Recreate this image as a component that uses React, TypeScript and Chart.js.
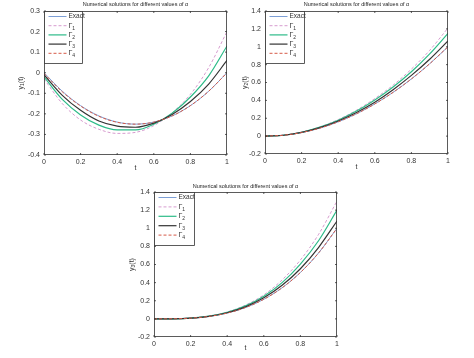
import React, { useEffect, useRef } from "react";
import { Chart, registerables } from "chart.js";

Chart.register(...registerables);

const T = [0, 0.1, 0.2, 0.3, 0.4, 0.5, 0.6, 0.7, 0.8, 0.9, 1.0];
const SERIES_NAMES = ["Exact", "Γ1", "Γ2", "Γ3", "Γ4"];

// y1(t)
const Y1_EXACT = [0, -0.09, -0.16, -0.21, -0.24, -0.25, -0.24, -0.21, -0.16, -0.09, 0];
const Y1_G1 = [-0.03, -0.15, -0.23, -0.275, -0.295, -0.29, -0.257, -0.195, -0.105, 0.025, 0.2];
const Y1_G2 = [-0.02, -0.13, -0.205, -0.255, -0.278, -0.278, -0.25, -0.197, -0.118, -0.015, 0.13];
const Y1_G3 = [-0.01, -0.11, -0.183, -0.235, -0.26, -0.265, -0.245, -0.203, -0.14, -0.055, 0.06];
const Y1_G4 = [-0.003, -0.093, -0.162, -0.212, -0.241, -0.25, -0.24, -0.21, -0.16, -0.09, 0.0];

// y2(t)
const Y2_EXACT = [0, 0.01, 0.04, 0.09, 0.16, 0.25, 0.36, 0.49, 0.64, 0.81, 1.0];
const Y2_G1 = [0, 0.01, 0.045, 0.103, 0.185, 0.29, 0.42, 0.57, 0.75, 0.96, 1.21];
const Y2_G2 = [0, 0.01, 0.043, 0.1, 0.178, 0.28, 0.405, 0.55, 0.72, 0.92, 1.15];
const Y2_G3 = [0, 0.01, 0.042, 0.095, 0.17, 0.265, 0.38, 0.52, 0.68, 0.86, 1.065];
const Y2_G4 = [0, 0.01, 0.04, 0.09, 0.16, 0.25, 0.36, 0.49, 0.64, 0.81, 1.0];

// y3(t)
const Y3_EXACT = [0, 0.001, 0.008, 0.027, 0.064, 0.125, 0.216, 0.343, 0.512, 0.729, 1.0];
const Y3_G1 = [0, 0.001, 0.009, 0.031, 0.076, 0.152, 0.265, 0.43, 0.65, 0.935, 1.3];
const Y3_G2 = [0, 0.001, 0.009, 0.03, 0.072, 0.143, 0.25, 0.4, 0.605, 0.865, 1.2];
const Y3_G3 = [0, 0.001, 0.008, 0.028, 0.068, 0.133, 0.232, 0.37, 0.553, 0.79, 1.08];
const Y3_G4 = [0, 0.001, 0.008, 0.027, 0.064, 0.125, 0.216, 0.343, 0.512, 0.729, 1.0];

const COLORS = ["#7d9fd6", "#d79ccf", "#2dbb88", "#333333", "#d65a48"];
const DASHES = [[], [3, 2], [], [], [3, 2]];
const WIDTHS = [1, 1, 1.2, 1.2, 1];

const FONT = "'Liberation Sans', Arial, sans-serif";
const TITLE = "Numerical solutions for different values of α";

function fmt(v: number) {
  const r = Math.round(v * 10) / 10;
  if (Math.abs(r) < 1e-9) return "0";
  return String(r);
}

type PanelProps = {
  left: number;
  top: number;
  width: number;
  height: number;
  yAxisWidth: number;
  xAxisHeight: number;
  padTop: number;
  padRight: number;
  yMin: number;
  yMax: number;
  yStep: number;
  ySeries: number[][];
  yLabelSub: string;
  yTitleX: number;
  xTitleY: number;
  titleY: number;
  legendW: number;
  legendH: number;
};

function Panel(p: PanelProps) {
  const ref = useRef<HTMLCanvasElement | null>(null);
  useEffect(() => {
    if (!ref.current) return;
    const boxPlugin = {
      id: "matlabBox",
      afterDraw(chart: any) {
        const ctx = chart.ctx as CanvasRenderingContext2D;
        const a = chart.chartArea;
        const xs = chart.scales.x;
        const ys = chart.scales.y;
        ctx.save();
        // title
        ctx.fillStyle = "#222";
        ctx.font = `5.5px ${FONT}`;
        ctx.textAlign = "center";
        ctx.textBaseline = "middle";
        ctx.fillText(TITLE, (a.left + a.right) / 2, p.titleY);
        // x title
        ctx.fillStyle = "#333";
        ctx.font = `7px ${FONT}`;
        ctx.fillText("t", (a.left + a.right) / 2, p.xTitleY);
        // y title with subscript
        ctx.save();
        ctx.translate(p.yTitleX, (a.top + a.bottom) / 2);
        ctx.rotate(-Math.PI / 2);
        ctx.textAlign = "left";
        ctx.font = `7px ${FONT}`;
        const w1 = ctx.measureText("y").width;
        ctx.font = `5px ${FONT}`;
        const w2 = ctx.measureText(p.yLabelSub).width;
        ctx.font = `7px ${FONT}`;
        const w3 = ctx.measureText("(t)").width;
        let x0 = -(w1 + w2 + w3) / 2;
        ctx.fillText("y", x0, 0);
        ctx.font = `5px ${FONT}`;
        ctx.fillText(p.yLabelSub, x0 + w1, 2);
        ctx.font = `7px ${FONT}`;
        ctx.fillText("(t)", x0 + w1 + w2, 0);
        ctx.restore();
        // box
        ctx.strokeStyle = "#333";
        ctx.lineWidth = 0.8;
        ctx.setLineDash([]);
        ctx.strokeRect(a.left + 0.5, a.top + 0.5, a.right - a.left - 1, a.bottom - a.top - 1);
        // inward ticks
        ctx.beginPath();
        xs.ticks.forEach((t: any) => {
          const px = xs.getPixelForValue(t.value);
          ctx.moveTo(px, a.bottom);
          ctx.lineTo(px, a.bottom - 2);
          ctx.moveTo(px, a.top);
          ctx.lineTo(px, a.top + 2);
        });
        ys.ticks.forEach((t: any) => {
          const py = ys.getPixelForValue(t.value);
          ctx.moveTo(a.left, py);
          ctx.lineTo(a.left + 2, py);
          ctx.moveTo(a.right, py);
          ctx.lineTo(a.right - 2, py);
        });
        ctx.stroke();
        // legend
        const lx = a.left + 0.5;
        const ly = a.top + 0.5;
        ctx.fillStyle = "#fff";
        ctx.fillRect(lx, ly, p.legendW, p.legendH);
        ctx.strokeStyle = "#333";
        ctx.lineWidth = 0.8;
        ctx.strokeRect(lx, ly, p.legendW, p.legendH);
        const rowH = (p.legendH - 6) / 5;
        SERIES_NAMES.forEach((name, i) => {
          const yy = ly + 4.5 + rowH * i + 0.5;
          ctx.strokeStyle = COLORS[i];
          ctx.lineWidth = WIDTHS[i];
          ctx.setLineDash(DASHES[i]);
          ctx.beginPath();
          ctx.moveTo(lx + 4, yy);
          ctx.lineTo(lx + 22, yy);
          ctx.stroke();
          ctx.setLineDash([]);
          ctx.fillStyle = "#333";
          ctx.textAlign = "left";
          ctx.textBaseline = "middle";
          if (i === 0) {
            ctx.font = `6.5px ${FONT}`;
            ctx.fillText(name, lx + 24, yy);
          } else {
            ctx.font = `7px ${FONT}`;
            ctx.fillText("Γ", lx + 24, yy);
            const gw = ctx.measureText("Γ").width;
            ctx.font = `5px ${FONT}`;
            ctx.fillText(name.slice(1), lx + 24 + gw, yy + 2.5);
          }
        });
        ctx.restore();
      },
    };

    const datasets = p.ySeries.map((arr, i) => ({
      label: SERIES_NAMES[i],
      data: T.map((t, j) => ({ x: t, y: arr[j] })),
      borderColor: COLORS[i],
      borderWidth: WIDTHS[i],
      borderDash: DASHES[i],
      pointRadius: 0,
      fill: false,
      cubicInterpolationMode: "monotone" as const,
      order: 5 - i,
    }));

    const chart = new Chart(ref.current, {
      type: "line",
      data: { datasets },
      options: {
        animation: false,
        responsive: false,
        devicePixelRatio: 1,
        layout: { padding: { top: p.padTop, right: p.padRight, left: 0, bottom: 0 } },
        plugins: { legend: { display: false }, tooltip: { enabled: false }, title: { display: false } },
        scales: {
          x: {
            type: "linear",
            min: 0,
            max: 1,
            grid: { display: false, drawTicks: false },
            border: { display: false },
            ticks: {
              stepSize: 0.2,
              padding: 3,
              color: "#333",
              font: { size: 7, family: FONT },
              maxRotation: 0,
              callback: (v: any) => fmt(Number(v)),
            },
            afterFit: (s: any) => {
              s.height = p.xAxisHeight;
            },
          },
          y: {
            type: "linear",
            min: p.yMin,
            max: p.yMax,
            grid: { display: false, drawTicks: false },
            border: { display: false },
            ticks: {
              stepSize: p.yStep,
              padding: 4,
              color: "#333",
              font: { size: 7, family: FONT },
              callback: (v: any) => fmt(Number(v)),
            },
            afterFit: (s: any) => {
              s.width = p.yAxisWidth;
            },
          },
        },
      },
      plugins: [boxPlugin],
    } as any);
    return () => chart.destroy();
  }, []);
  return (
    <div style={{ position: "absolute", left: p.left, top: p.top, width: p.width, height: p.height }}>
      <canvas ref={ref} width={p.width} height={p.height} style={{ width: p.width, height: p.height, display: "block" }} />
    </div>
  );
}

export default function App() {
  return (
    <div style={{ position: "fixed", left: 0, top: 0, width: 474, height: 358, background: "#fff", overflow: "hidden" }}>
      <Panel
        left={0}
        top={0}
        width={237}
        height={175}
        yAxisWidth={44}
        xAxisHeight={20}
        padTop={11}
        padRight={10}
        yMin={-0.4}
        yMax={0.3}
        yStep={0.1}
        ySeries={[Y1_EXACT, Y1_G1, Y1_G2, Y1_G3, Y1_G4]}
        yLabelSub="1"
        yTitleX={21}
        xTitleY={168}
        titleY={4}
        legendW={38}
        legendH={52}
      />
      <Panel
        left={237}
        top={0}
        width={237}
        height={175}
        yAxisWidth={28}
        xAxisHeight={21}
        padTop={11}
        padRight={26}
        yMin={-0.2}
        yMax={1.4}
        yStep={0.2}
        ySeries={[Y2_EXACT, Y2_G1, Y2_G2, Y2_G3, Y2_G4]}
        yLabelSub="2"
        yTitleX={8}
        xTitleY={167}
        titleY={4}
        legendW={39}
        legendH={52}
      />
      <Panel
        left={120}
        top={175}
        width={240}
        height={183}
        yAxisWidth={34}
        xAxisHeight={21}
        padTop={17}
        padRight={23}
        yMin={-0.2}
        yMax={1.4}
        yStep={0.2}
        ySeries={[Y3_EXACT, Y3_G1, Y3_G2, Y3_G3, Y3_G4]}
        yLabelSub="3"
        yTitleX={12}
        xTitleY={173}
        titleY={11}
        legendW={40}
        legendH={53}
      />
    </div>
  );
}
